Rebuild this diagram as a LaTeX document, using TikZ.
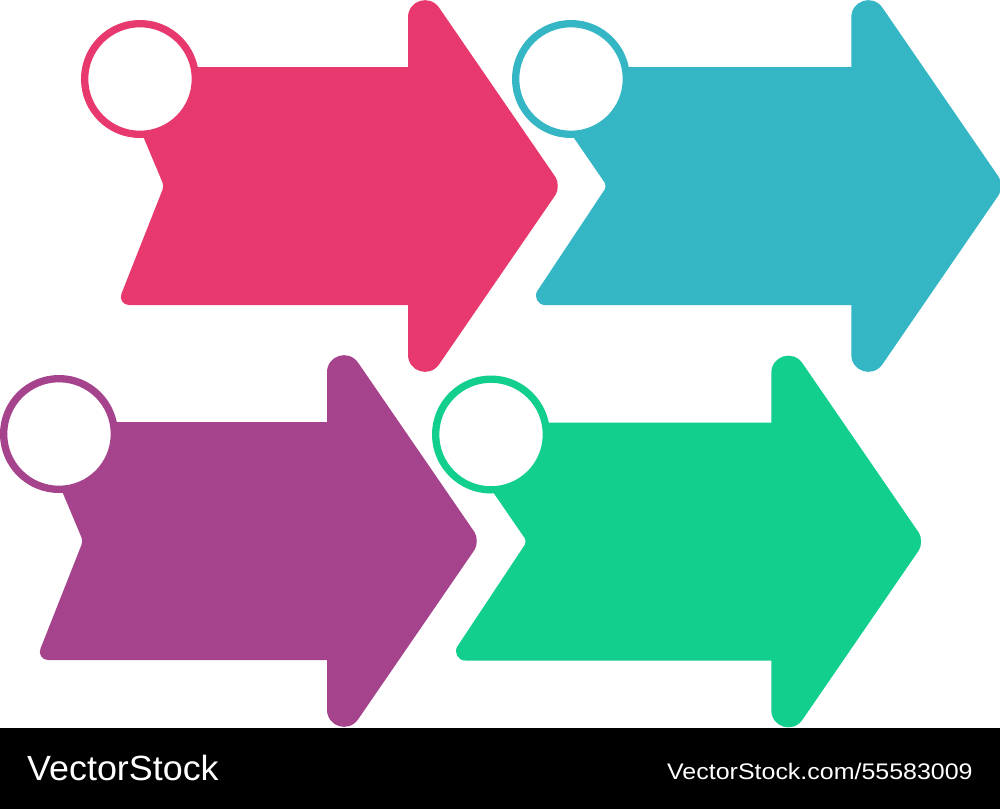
\documentclass[tikz,border=0pt]{standalone}
\usepackage{fontspec}
\setmainfont{Liberation Sans}
\usetikzlibrary{calc}
\definecolor{cpink}{RGB}{232,57,110}
\definecolor{ccyan}{RGB}{52,182,197}
\definecolor{cpurple}{RGB}{165,67,141}
\definecolor{cgreen}{RGB}{18,207,142}
\tikzset{
  ringnode/.style={circle, draw=#1, fill=white, line width=7.3pt, inner sep=0pt, outer sep=0pt, minimum size=110.7pt},
  bandtext/.style={anchor=base west, inner sep=0pt, text=white},
  pics/shapeA/.style={code={
    \coordinate (a1) at (114,67);
    \coordinate (a2) at (408,67);
    \coordinate (a3) at (408,-37.6);
    \coordinate (a4) at (561.6,186);
    \coordinate (a5) at (408,409.6);
    \coordinate (a6) at (408,305);
    \coordinate (a7) at (117,305);
    \coordinate (a8) at (164,186);
    \fill[#1] (a1) -- (a2)
      -- ($(a3)!55pt!(a2)$) .. controls ($(a3)!38pt!(a2)$) and ($(a3)!38pt!(a4)$) .. ($(a3)!55pt!(a4)$)
      -- ($(a4)!10.6pt!(a3)$) .. controls ($(a4)!5.5pt!(a3)$) and ($(a4)!5.5pt!(a5)$) .. ($(a4)!10.6pt!(a5)$)
      -- ($(a5)!55pt!(a4)$) .. controls ($(a5)!38pt!(a4)$) and ($(a5)!38pt!(a6)$) .. ($(a5)!55pt!(a6)$)
      -- (a6)
      -- ($(a7)!12pt!(a6)$) .. controls ($(a7)!6.2pt!(a6)$) and ($(a7)!6.2pt!(a8)$) .. ($(a7)!12pt!(a8)$)
      -- ($(a8)!4pt!(a7)$) .. controls ($(a8)!1.5pt!(a7)$) and ($(a8)!1.5pt!(a1)$) .. ($(a8)!4pt!(a1)$)
      -- cycle;
    \node[ringnode=#1] (circA) at (140,79) {};
  }},
  pics/shapeB/.style={code={
    \coordinate (b1) at (525.2,67);
    \coordinate (b2) at (851.3,67);
    \coordinate (b3) at (851.3,-37.6);
    \coordinate (b4) at (1004.9,186);
    \coordinate (b5) at (851.3,409.6);
    \coordinate (b6) at (851.3,305);
    \coordinate (b7) at (528,305);
    \coordinate (b8) at (607,186);
    \fill[#1] (b1) -- (b2)
      -- ($(b3)!55pt!(b2)$) .. controls ($(b3)!38pt!(b2)$) and ($(b3)!38pt!(b4)$) .. ($(b3)!55pt!(b4)$)
      -- ($(b4)!10.6pt!(b3)$) .. controls ($(b4)!5.5pt!(b3)$) and ($(b4)!5.5pt!(b5)$) .. ($(b4)!10.6pt!(b5)$)
      -- ($(b5)!55pt!(b4)$) .. controls ($(b5)!38pt!(b4)$) and ($(b5)!38pt!(b6)$) .. ($(b5)!55pt!(b6)$)
      -- (b6)
      -- ($(b7)!17pt!(b6)$) .. controls ($(b7)!9.9pt!(b6)$) and ($(b7)!9.9pt!(b8)$) .. ($(b7)!17pt!(b8)$)
      -- ($(b8)!4pt!(b7)$) .. controls ($(b8)!2pt!(b7)$) and ($(b8)!2pt!(b1)$) .. ($(b8)!4pt!(b1)$)
      -- cycle;
    \node[ringnode=#1] (circB) at (571,79) {};
  }}
}
\begin{document}
\begin{tikzpicture}[x=1pt, y=-1pt]
\useasboundingbox (0,0) rectangle (1000,809);
\fill[white] (0,0) rectangle (1000,809);
\pic at (0,0) {shapeA=cpink};
\pic at (0,0) {shapeB=ccyan};
\pic at (-81,355) {shapeA=cpurple};
\pic at (-80,355.5) {shapeB=cgreen};
\fill[black] (0,728) rectangle (1000,809);
\node[bandtext, font=\fontsize{35}{40}\selectfont] (logo) at (27,780) {\scalebox{1.025}[1]{VectorStock}};
\node[bandtext, font=\fontsize{22.5}{26}\selectfont] (url) at (667,779) {\scalebox{1.11}[1]{VectorStock.com/55583009}};
\end{tikzpicture}
\end{document}
